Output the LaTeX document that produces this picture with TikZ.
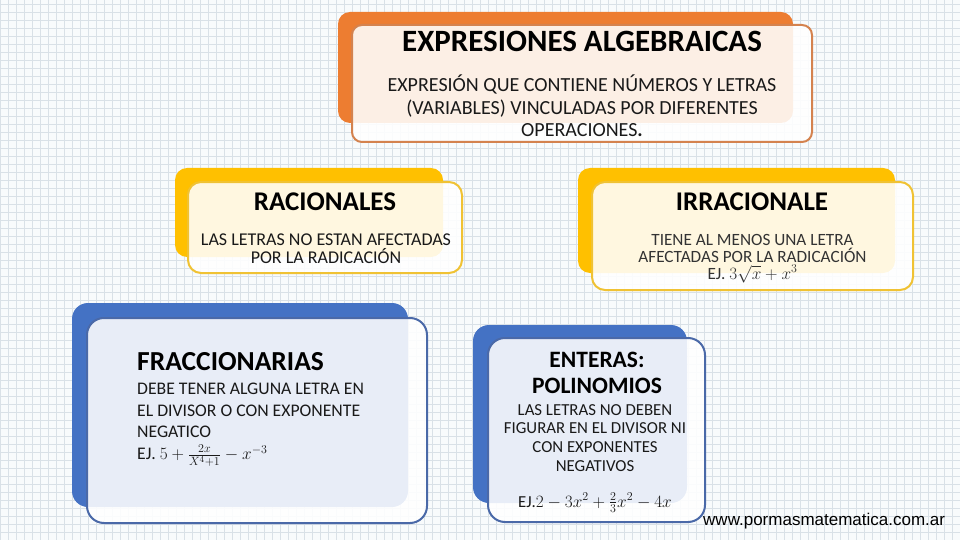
\documentclass[tikz,border=0pt]{standalone}
\usepackage{fontspec}
\setmainfont{Carlito}
\newfontfamily\wmfont{Liberation Sans}
\usetikzlibrary{calc}
\definecolor{bgc}{HTML}{F8FBFC}
\definecolor{gridc}{HTML}{D9E1E7}
\definecolor{orA}{HTML}{ED7D31}
\definecolor{orB}{HTML}{D4824E}
\definecolor{yeA}{HTML}{FFC000}
\definecolor{yeB}{HTML}{F0C233}
\definecolor{blA}{HTML}{4472C4}
\definecolor{blB}{HTML}{4A69A8}
\newcommand\myfs[2]{\fontsize{#1}{#2}\selectfont}
\pgfdeclarelayer{bg}
\pgfsetlayers{bg,main}
\tikzset{
  backbox/.style={fill=#1, draw=none, rounded corners=12pt, inner sep=0pt},
  frontbox/.style={fill=white, fill opacity=0.88, draw=#1, line width=2pt, rounded corners=13pt, inner sep=0pt},
  gridline/.style={draw=gridc, line width=0.9pt},
  yconn/.style={draw=yeB, line width=2pt},
  bconn/.style={draw=blB, line width=2pt},
  ttl/.style={font=\bfseries\myfs{#1}{#1}, text=black, inner sep=0pt},
  body/.style={align=center, inner sep=0pt, text=black!90},
}
\begin{document}
\begin{tikzpicture}[x=1pt,y=-1pt]
\useasboundingbox (0,0) rectangle (960,540);
\fill[bgc] (0,0) rectangle (960,540);
\foreach \i in {0,...,120} \draw[gridline] (8*\i+0.5,0) -- (8*\i+0.5,540);
\foreach \j in {0,...,67} \draw[gridline] (0,8*\j+4.5) -- (960,8*\j+4.5);

% back boxes
\node[backbox=orA, minimum width=455, minimum height=111] (topb) at (565.5,67.5) {};
\node[backbox=yeA, minimum width=268, minimum height=89] (racb) at (309,212.5) {};
\node[backbox=yeA, minimum width=317, minimum height=105] (irrb) at (736.5,220.5) {};
\node[backbox=blA, minimum width=336, minimum height=204, rounded corners=16pt] (fracb) at (240,405) {};
\node[backbox=blA, minimum width=214, minimum height=178, rounded corners=16pt] (entb) at (580,414) {};

% front boxes
\node[frontbox=orB, minimum width=460, minimum height=117, rounded corners=10pt] (top) at (582,83.5) {};
\node[frontbox=yeB, minimum width=274, minimum height=91] (rac) at (325,227.5) {};
\node[frontbox=yeB, minimum width=321, minimum height=108] (irr) at (752.5,236) {};
\node[frontbox=blB, minimum width=340, minimum height=205, rounded corners=17pt] (frac) at (257,420.5) {};
\node[frontbox=blB, minimum width=217, minimum height=184, rounded corners=17pt] (ent) at (596.5,430) {};

% connectors
\coordinate (ja) at (566,153);
\coordinate (xl) at (309,0);
\coordinate (xr) at (737,0);
\coordinate (jb) at (309,312);
\coordinate (jc) at (309,289);
\coordinate (xe) at (580,0);
\coordinate (xf) at (240,0);
\begin{pgfonlayer}{bg}
\draw[yconn] (top.south -| ja) -- (ja) -| (racb.north -| xl);
\draw[yconn] (ja) -| (irrb.north -| xr);
\draw[bconn] (rac.south -| xl) -- (jb) -| (entb.north -| xe);
\draw[bconn] (jc) -| (fracb.north -| xf);
\end{pgfonlayer}

% texts (anchor=base of a multi-line node = baseline of its last line)
\node[ttl=31, anchor=base] (t1) at (582,52) {EXPRESIONES ALGEBRAICAS};
\node[body, anchor=base, font=\myfs{20}{22.5}] (t1b) at (582,137)
  {EXPRESIÓN QUE CONTIENE NÚMEROS Y LETRAS\\(VARIABLES) VINCULADAS POR DIFERENTES\\OPERACIONES\textbf{.}};

\node[ttl=27, anchor=base] (t2) at (325,210) {RACIONALES};
\node[body, anchor=base, font=\myfs{18}{17.5}] (t2b) at (326,263)
  {LAS LETRAS NO ESTAN AFECTADAS\\POR LA RADICACIÓN};

\node[ttl=27, anchor=base] (t3) at (752,210) {IRRACIONALE};
\node[body, anchor=base, font=\myfs{17.2}{17}, text=black!80] (t3b) at (752.5,279)
  {TIENE AL MENOS UNA LETRA\\AFECTADAS POR LA RADICACIÓN\\EJ. $3\sqrt{x}+x^3$};

\node[ttl=27.5, anchor=base west] (t4) at (137,370) {FRACCIONARIAS};
\node[body, align=left, anchor=base west, font=\myfs{17.7}{21.7}] (t4b) at (137,459.6)
  {DEBE TENER ALGUNA LETRA EN\\EL DIVISOR O CON EXPONENTE\\NEGATICO\\EJ. $5+\frac{2x}{X^4+1}-x^{-3}$};

\node[body, anchor=base, font=\bfseries\myfs{23.5}{25.5}, text=black] (t5) at (597,393) {ENTERAS:\\POLINOMIOS};
\node[body, anchor=base, font=\myfs{16.8}{18.9}] (t5b) at (595,471.7)
  {LAS LETRAS NO DEBEN\\FIGURAR EN EL DIVISOR NI\\CON EXPONENTES\\NEGATIVOS};
\node[body, anchor=base, font=\myfs{16.8}{18}] (t5c) at (595,507) {EJ.$2-3x^2+\frac{2}{3}x^2-4x$};

\node[anchor=base west, inner sep=0pt, font=\wmfont\myfs{17}{17}, text=black] (wm) at (703,525) {www.pormasmatematica.com.ar};
\end{tikzpicture}
\end{document}
